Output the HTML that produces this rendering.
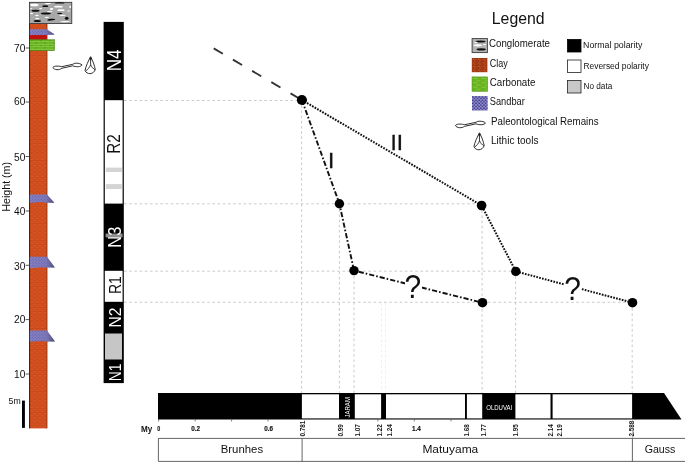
<!DOCTYPE html>
<html lang="en">
<head>
<meta charset="utf-8">
<title>Magnetostratigraphy figure</title>
<style>
html,body{margin:0;padding:0;background:#fff;}
body{width:685px;height:466px;overflow:hidden;font-family:"Liberation Sans",sans-serif;}
svg{display:block;}
text{font-family:"Liberation Sans",sans-serif;fill:#111;}
.nb{font-weight:bold;}
</style>
</head>
<body>
<svg width="685" height="466" viewBox="0 0 685 466">
<defs>
  <pattern id="clay" x="30" y="24" width="5.6" height="4.2" patternUnits="userSpaceOnUse">
    <rect width="5.6" height="4.2" fill="#cb471a"/>
    <rect x="0.4" y="0.4" width="2.2" height="1.3" fill="#da5b28"/>
    <rect x="3.2" y="2.5" width="2.2" height="1.3" fill="#da5b28"/>
    <rect x="3.2" y="0.4" width="2.2" height="1.3" fill="#d24f1d"/>
    <rect x="0.4" y="2.5" width="2.2" height="1.3" fill="#d24f1d"/>
  </pattern>
  <pattern id="clayL" x="472" y="58" width="5.2" height="3.6" patternUnits="userSpaceOnUse">
    <rect width="5.2" height="3.6" fill="#7c2a10"/>
    <rect x="0.5" y="0.5" width="1.9" height="1.2" fill="#e0602a"/>
    <rect x="3" y="0.5" width="1.8" height="1.2" fill="#d24a1c"/>
    <rect x="0" y="2.2" width="1" height="1.1" fill="#d24a1c"/>
    <rect x="1.8" y="2.2" width="1.9" height="1.1" fill="#e0602a"/>
    <rect x="4.3" y="2.2" width="0.9" height="1.1" fill="#d24a1c"/>
  </pattern>
  <pattern id="carb" x="29.4" y="40" width="9" height="4.9" patternUnits="userSpaceOnUse">
    <rect width="9" height="4.9" fill="#62b01e"/>
    <rect x="0" y="1.3" width="9" height="0.8" fill="#9ad650"/>
    <rect x="0" y="3.75" width="9" height="0.8" fill="#9ad650"/>
    <rect x="2" y="0" width="0.6" height="1.3" fill="#3c7d10"/>
    <rect x="6.4" y="2.1" width="0.6" height="1.6" fill="#3c7d10"/>
  </pattern>
  <pattern id="carbL" x="472" y="77" width="9" height="4.4" patternUnits="userSpaceOnUse">
    <rect width="9" height="4.4" fill="#68b41f"/>
    <rect x="0.5" y="1" width="5" height="0.7" fill="#8fd048"/>
    <rect x="4" y="3.2" width="4.5" height="0.7" fill="#8fd048"/>
  </pattern>
  <pattern id="sand" x="30" y="29" width="3" height="3" patternUnits="userSpaceOnUse">
    <rect width="3" height="3" fill="#8580c2"/>
    <circle cx="0.8" cy="0.8" r="0.55" fill="#5a53a0"/>
    <circle cx="2.3" cy="2.3" r="0.55" fill="#5a53a0"/>
  </pattern>
  <pattern id="sandL" x="472" y="96" width="3.2" height="3.2" patternUnits="userSpaceOnUse">
    <rect width="3.2" height="3.2" fill="#908bd0"/>
    <circle cx="0.8" cy="0.9" r="0.75" fill="#2e2a70"/>
    <circle cx="2.4" cy="2.5" r="0.75" fill="#2e2a70"/>
  </pattern>
  <linearGradient id="sg" x1="0" x2="1" y1="0" y2="0">
    <stop offset="0" stop-color="#7b76c0" stop-opacity="0"/>
    <stop offset="0.65" stop-color="#6a679f" stop-opacity="0.2"/>
    <stop offset="1" stop-color="#3f3f55" stop-opacity="0.9"/>
  </linearGradient>
</defs>
<rect width="685" height="466" fill="#fff"/>

<!-- stratigraphic column -->
<g id="strat">
  <rect x="29.3" y="23.6" width="17.9" height="404.8" fill="url(#clay)"/>
  <rect x="29.2" y="23.6" width="0.9" height="404.6" fill="#4a1d08"/>
  <rect x="46.5" y="23.6" width="0.8" height="404.8" fill="#8a3410"/>
  <!-- conglomerate -->
  <rect x="29.4" y="2.3" width="42.4" height="21.2" fill="#a8a8a8" stroke="#2c2c2c" stroke-width="0.8"/>
  <g fill="#fff">
    <ellipse cx="34.4" cy="5" rx="4.2" ry="1.25"/><ellipse cx="47.9" cy="3.6" rx="3.4" ry="0.7"/>
    <ellipse cx="58.5" cy="6.7" rx="4.3" ry="0.9"/><ellipse cx="51.5" cy="8.9" rx="1.8" ry="1"/>
    <ellipse cx="61" cy="10.2" rx="3.6" ry="0.9"/><ellipse cx="70.2" cy="6.9" rx="0.9" ry="1.1"/>
    <ellipse cx="49.7" cy="11.5" rx="2.9" ry="0.6"/><ellipse cx="31.5" cy="13.5" rx="1.5" ry="0.7"/>
    <ellipse cx="37" cy="15.5" rx="1.8" ry="0.65"/><ellipse cx="62.5" cy="15.3" rx="3.3" ry="0.65"/>
    <ellipse cx="46.8" cy="17.3" rx="2.2" ry="0.65"/><ellipse cx="37.3" cy="18.6" rx="2.2" ry="0.7"/>
    <ellipse cx="65" cy="21.6" rx="5" ry="0.65"/><ellipse cx="40.6" cy="8.6" rx="1.5" ry="0.6"/>
    <ellipse cx="31.1" cy="8.6" rx="0.9" ry="0.6"/><ellipse cx="68.7" cy="11" rx="1.5" ry="0.6"/>
  </g>
  <g fill="#0c0c0c">
    <ellipse cx="59.6" cy="2.9" rx="5" ry="0.6"/><ellipse cx="45.3" cy="6.2" rx="3.1" ry="0.9"/>
    <ellipse cx="35.5" cy="10.8" rx="4" ry="0.95"/><ellipse cx="45.9" cy="13.6" rx="5" ry="1"/>
    <ellipse cx="59.7" cy="13.4" rx="2.6" ry="0.65"/><ellipse cx="66.7" cy="18.2" rx="1.8" ry="1.5"/>
    <ellipse cx="51.2" cy="19.7" rx="4" ry="0.9" transform="rotate(-6 51.2 19.7)"/><ellipse cx="37.3" cy="21" rx="3.6" ry="1.1"/>
  </g>
  <!-- top beds -->
  <path d="M29.4 29.3 H46.8 L54.6 34.6 L46.8 35.1 H29.4 Z" fill="url(#sand)"/>
  <path d="M29.4 29.3 H46.8 L54.6 34.6 L46.8 35.1 H29.4 Z" fill="url(#sg)"/>
  <rect x="29.4" y="35.1" width="17.4" height="4.6" fill="#be1010"/>
  <rect x="29.4" y="39.7" width="25.2" height="11" fill="url(#carb)" stroke="#3a7a12" stroke-width="0.5"/>
  <!-- sandbars -->
  <g>
    <path id="sb1" d="M29.4 194.6 H46.9 L54.3 202.8 H46.9 Q42 201.6 38 202.2 T29.4 202.6 Z" fill="url(#sand)"/>
    <path d="M29.4 194.6 H46.9 L54.3 202.8 H46.9 Q42 201.6 38 202.2 T29.4 202.6 Z" fill="url(#sg)"/>
    <path d="M29.4 256.7 H47 L54.8 267.6 H47 Q42 267 38 267.6 T29.4 267.8 Z" fill="url(#sand)"/>
    <path d="M29.4 256.7 H47 L54.8 267.6 H47 Q42 267 38 267.6 T29.4 267.8 Z" fill="url(#sg)"/>
    <path d="M29.4 330.5 H47 L54.9 341.4 H47 Q42 340.6 38 341.2 T29.4 341.6 Z" fill="url(#sand)"/>
    <path d="M29.4 330.5 H47 L54.9 341.4 H47 Q42 340.6 38 341.2 T29.4 341.6 Z" fill="url(#sg)"/>
  </g>
  <rect x="29.2" y="23.6" width="0.8" height="404.6" fill="#3a1a0a" opacity="0.8"/>
  <!-- scale bar -->
  <rect x="22" y="400.6" width="2.9" height="27.3" fill="#000"/>
  <text x="8.6" y="404" font-size="8.7">5m</text>
</g>

<!-- height axis -->
<g id="haxis" font-size="10.2" text-anchor="end">
  <g stroke="#333" stroke-width="0.8">
    <line x1="25.6" y1="48" x2="29.4" y2="48"/><line x1="25.6" y1="102" x2="29.4" y2="102"/>
    <line x1="25.6" y1="156.5" x2="29.4" y2="156.5"/><line x1="25.6" y1="211" x2="29.4" y2="211"/>
    <line x1="25.6" y1="265.3" x2="29.4" y2="265.3"/><line x1="25.6" y1="319.6" x2="29.4" y2="319.6"/>
    <line x1="25.6" y1="374" x2="29.4" y2="374"/>
  </g>
  <text x="25.4" y="52.4">70</text>
  <text x="25.4" y="105.4">60</text>
  <text x="25.4" y="160.6">50</text>
  <text x="25.4" y="215">40</text>
  <text x="25.4" y="269.6">30</text>
  <text x="25.4" y="323.2">20</text>
  <text x="25.4" y="377.6">10</text>
  <text transform="translate(9.8,186.8) rotate(-90)" text-anchor="middle" font-size="10.5" textLength="49.5" lengthAdjust="spacingAndGlyphs">Height (m)</text>
</g>

<!-- fossil + lithic icons near column -->
<g id="icons1" fill="#fff" stroke="#1a1a1a" stroke-width="0.9" stroke-linejoin="round">
  <path d="M52.9 67.4 C53.5 66.4 55.5 66.1 57 66.1 C59.5 66.1 60.5 66.4 61.8 66.7 L72.8 64.3 C73.6 63.5 74.8 63.2 76.5 63.2 C78.7 63.2 81 63.9 82.05 64.9 C81.6 65.8 80 66.5 78.5 66.7 C76 66.9 74 66.3 72.8 65.8 L61.8 68.3 C60.6 69.3 58.5 69.8 57 69.7 C55 69.6 53 68.6 52.9 67.4 Z"/>
  <path d="M90.6 56.7 C88.6 60.5 85.6 66.5 85.05 70.6 C85.6 72.4 88 73.7 90 73.7 C92.4 73.6 94.8 71.6 95.3 69.6 C94.6 65.4 92.6 60.4 90.6 56.7 Z"/>
  <path d="M90.6 57.2 L90.6 64.8 M90.6 64.8 C89.6 67.4 87.8 69.6 85.6 71 M90.6 64.8 C91.8 67 93.2 68.8 95 69.8 M90.2 57.6 L90.2 60 M91 57.6 L91 60" fill="none" stroke-width="0.85"/>
</g>

<!-- polarity column -->
<g id="polcol">
  <rect x="103.6" y="21.9" width="20.2" height="361.2" fill="#000"/>
  <rect x="104.8" y="100.2" width="17.8" height="103.4" fill="#fff"/>
  <rect x="105.8" y="167.6" width="16" height="4.4" fill="#d4d4d4"/>
  <rect x="105.8" y="184.1" width="16" height="4.9" fill="#d4d4d4"/>
  <rect x="104.8" y="270.8" width="17.8" height="31" fill="#fff"/>
  <rect x="105" y="333.5" width="17" height="26" fill="#c6c6c6"/>
  <rect x="105.6" y="233.6" width="17" height="3.8" fill="#8e8e8e"/>
  <g text-anchor="middle" lengthAdjust="spacingAndGlyphs">
    <text transform="translate(121,60.3) rotate(-90)" font-size="19.5" textLength="22" lengthAdjust="spacingAndGlyphs" style="fill:#fff">N4</text>
    <text transform="translate(120.4,144) rotate(-90)" font-size="18" textLength="19.4" lengthAdjust="spacingAndGlyphs">R2</text>
    <text transform="translate(120.8,237.2) rotate(-90)" font-size="18.5" textLength="21" lengthAdjust="spacingAndGlyphs" style="fill:#fff">N3</text>
    <text transform="translate(120.5,285.2) rotate(-90)" font-size="16" textLength="17.8" lengthAdjust="spacingAndGlyphs">R1</text>
    <text transform="translate(120.5,317.5) rotate(-90)" font-size="16" textLength="20" lengthAdjust="spacingAndGlyphs" style="fill:#fff">N2</text>
    <text transform="translate(120.5,372.4) rotate(-90)" font-size="16" textLength="17.6" lengthAdjust="spacingAndGlyphs" style="fill:#fff">N1</text>
  </g>
</g>

<!-- guide lines -->
<g id="guides" stroke="#bdbdbd" stroke-width="0.8" stroke-dasharray="2.6 2.6" fill="none">
  <line x1="124" y1="100.5" x2="301" y2="100.5"/>
  <line x1="124" y1="203.8" x2="482" y2="203.8"/>
  <line x1="124" y1="271.2" x2="516" y2="271.2"/>
  <line x1="124" y1="302.3" x2="632" y2="302.3"/>
  <line x1="301.6" y1="100" x2="301.6" y2="394"/>
  <line x1="339.4" y1="204" x2="339.4" y2="394"/>
  <line x1="354" y1="271" x2="354" y2="394"/>
  <line x1="482.1" y1="205" x2="482.1" y2="394"/>
  <line x1="515.6" y1="271" x2="515.6" y2="394"/>
  <line x1="632.2" y1="303" x2="632.2" y2="394"/>
  <line x1="381.5" y1="303" x2="381.5" y2="394" stroke="#ebebeb"/>
  <line x1="385.5" y1="303" x2="385.5" y2="394" stroke="#ebebeb"/>
</g>

<!-- correlation lines -->
<g id="corr" fill="none" stroke="#111">
  <line x1="213.7" y1="48.4" x2="301.9" y2="100" stroke="#333" stroke-width="1.85" stroke-dasharray="10.6 11.65"/>
  <polyline points="301.9,100 339.4,203.7 354,270.6 482.5,302.7" stroke-width="1.9" stroke-dasharray="5.2 2 1.6 2"/>
  <polyline points="301.9,100 481.6,205.5 515.8,271.4 632.5,302.7" stroke-width="2" stroke-dasharray="1.7 1.25"/>
</g>
<g id="pts" fill="#000">
  <circle cx="301.9" cy="100" r="5.1"/>
  <circle cx="339.4" cy="203.7" r="4.7"/>
  <circle cx="354" cy="270.6" r="4.7"/>
  <circle cx="482.5" cy="302.7" r="4.8"/>
  <circle cx="481.6" cy="205.5" r="4.8"/>
  <circle cx="515.8" cy="271.4" r="4.7"/>
  <circle cx="632.5" cy="302.7" r="4.8"/>
</g>
<g id="marks">
  <text x="327.9" y="168.4" font-size="22.5" stroke="#111" stroke-width="0.3">I</text>
  <text x="390.6" y="149.8" font-size="22.5" stroke="#111" stroke-width="0.3">II</text>
  <rect x="405" y="278" width="17" height="18" fill="#fff"/>
  <rect x="564" y="279" width="17" height="18" fill="#fff"/>
  <text transform="translate(404.6,297.9) scale(0.88,1)" font-size="34">?</text>
  <text transform="translate(564.2,299.9) scale(0.88,1)" font-size="34">?</text>
</g>

<!-- legend -->
<g id="legend" class="h">
  <text x="491.8" y="24" font-size="15.8" textLength="52.8" lengthAdjust="spacingAndGlyphs">Legend</text>
  <rect x="472.1" y="38.6" width="15.3" height="14" fill="#b4b4b4" stroke="#3a3a3a" stroke-width="0.9"/>
  <ellipse cx="480.5" cy="41.4" rx="5" ry="1" fill="#111"/><ellipse cx="477.8" cy="45.3" rx="4.2" ry="1.1" fill="#fff"/>
  <ellipse cx="481.2" cy="49.4" rx="4.6" ry="1.1" fill="#111"/><ellipse cx="484.6" cy="44.6" rx="1.8" ry="0.7" fill="#fff"/>
  <ellipse cx="476" cy="42.4" rx="1.6" ry="0.6" fill="#fff"/>
  <rect x="471.8" y="58" width="15.6" height="14.2" fill="url(#clayL)"/>
  <rect x="472" y="76.9" width="15.7" height="14.5" fill="url(#carbL)" stroke="#4c8c18" stroke-width="0.5"/>
  <rect x="472" y="96" width="15.7" height="14.5" fill="url(#sandL)"/>
  <text x="489" y="47.4" font-size="10.5" textLength="61" lengthAdjust="spacingAndGlyphs">Conglomerate</text>
  <text x="489.8" y="66.6" font-size="10.5" textLength="18" lengthAdjust="spacingAndGlyphs">Clay</text>
  <text x="489.8" y="86.2" font-size="10.5" textLength="45.6" lengthAdjust="spacingAndGlyphs">Carbonate</text>
  <text x="489.8" y="104.7" font-size="10.5" textLength="35" lengthAdjust="spacingAndGlyphs">Sandbar</text>
  <text x="491" y="124.6" font-size="10.5" textLength="107.6" lengthAdjust="spacingAndGlyphs">Paleontological Remains</text>
  <text x="491" y="144" font-size="10.5" textLength="47.4" lengthAdjust="spacingAndGlyphs">Lithic tools</text>
  <g fill="#fff" stroke="#1a1a1a" stroke-width="0.9" stroke-linejoin="round">
    <path transform="translate(402.6,58) translate(52.9,67) scale(1.03,1) translate(-52.9,-67)" d="M52.9 67.4 C53.5 66.4 55.5 66.1 57 66.1 C59.5 66.1 60.5 66.4 61.8 66.7 L72.8 64.3 C73.6 63.5 74.8 63.2 76.5 63.2 C78.7 63.2 81 63.9 82.05 64.9 C81.6 65.8 80 66.5 78.5 66.7 C76 66.9 74 66.3 72.8 65.8 L61.8 68.3 C60.6 69.3 58.5 69.8 57 69.7 C55 69.6 53 68.6 52.9 67.4 Z"/>
    <path transform="translate(388.9,76.1)" d="M90.6 56.7 C88.6 60.5 85.6 66.5 85.05 70.6 C85.6 72.4 88 73.7 90 73.7 C92.4 73.6 94.8 71.6 95.3 69.6 C94.6 65.4 92.6 60.4 90.6 56.7 Z"/>
    <path transform="translate(388.9,76.1)" d="M90.6 57.2 L90.6 64.8 M90.6 64.8 C89.6 67.4 87.8 69.6 85.6 71 M90.6 64.8 C91.8 67 93.2 68.8 95 69.8 M90.2 57.6 L90.2 60 M91 57.6 L91 60" fill="none" stroke-width="0.85"/>
  </g>
  <rect x="567.5" y="39.5" width="13.5" height="12.5" fill="#000" stroke="#000" stroke-width="0.8"/>
  <rect x="567.5" y="60" width="13.5" height="12.5" fill="#fff" stroke="#222" stroke-width="0.8"/>
  <rect x="567.5" y="80.500" width="13.5" height="12.500" fill="#c8c8c8" stroke="#222" stroke-width="0.8"/>
  <text x="583.1" y="47.8" font-size="8.3" textLength="59.2" lengthAdjust="spacingAndGlyphs">Normal polarity</text>
  <text x="583.5" y="68.5" font-size="8.3" textLength="65.4" lengthAdjust="spacingAndGlyphs">Reversed polarity</text>
  <text x="583.5" y="88.8" font-size="8.3" textLength="28.8" lengthAdjust="spacingAndGlyphs">No data</text>
</g>

<!-- time scale -->
<g id="gpts">
  <path d="M158 392.9 H664 L681.5 419.5 H158 Z" fill="#000"/>
  <g fill="#fff">
    <rect x="301.9" y="394.3" width="37.1" height="24.1"/>
    <rect x="354.8" y="394.3" width="26.3" height="24.1"/>
    <rect x="386" y="394.3" width="79" height="24.1"/>
    <rect x="466.9" y="394.3" width="15.3" height="24.1"/>
    <rect x="515.4" y="394.3" width="35.1" height="24.1"/>
    <rect x="552.6" y="394.3" width="79.5" height="24.1"/>
  </g>
  <text transform="translate(349.7,407.3) rotate(-90)" text-anchor="middle" font-size="7" textLength="20.5" lengthAdjust="spacingAndGlyphs" style="fill:#fff">JARAM</text>
  <text x="486.2" y="409.5" font-size="7.2" textLength="26.1" lengthAdjust="spacingAndGlyphs" style="fill:#fff">OLDUVAI</text>
  <g stroke="#444" stroke-width="0.7">
    <line x1="158.6" y1="419.5" x2="158.6" y2="421.4"/><line x1="195.2" y1="419.5" x2="195.2" y2="421.4"/><line x1="231.6" y1="419.5" x2="231.6" y2="421.4"/>
    <line x1="268" y1="419.5" x2="268" y2="421.4"/><line x1="377.8" y1="419.5" x2="377.8" y2="421.4"/><line x1="414.3" y1="419.5" x2="414.3" y2="421.4"/>
    <line x1="451" y1="419.5" x2="451" y2="421.4"/>
  </g>
  <g class="nb">
    <text x="140.9" y="432" font-size="8.9" textLength="11.3" lengthAdjust="spacingAndGlyphs">My</text>
    <g font-size="7" stroke="#111" stroke-width="0.15">
      <text x="157.2" y="431" textLength="3" lengthAdjust="spacingAndGlyphs">0</text>
      <text x="191.3" y="431" textLength="8.8" lengthAdjust="spacingAndGlyphs">0.2</text>
      <text x="264.2" y="431" textLength="8.8" lengthAdjust="spacingAndGlyphs">0.6</text>
      <text x="411.9" y="431" textLength="8.8" lengthAdjust="spacingAndGlyphs">1.4</text>
    </g>
    <g font-size="7.8">
      <text transform="translate(304.9,436.6) rotate(-90)" textLength="16" lengthAdjust="spacingAndGlyphs">0.781</text>
      <text transform="translate(342.6,436.6) rotate(-90)" textLength="12.4" lengthAdjust="spacingAndGlyphs">0.99</text>
      <text transform="translate(360,436.6) rotate(-90)" textLength="12.4" lengthAdjust="spacingAndGlyphs">1.07</text>
      <text transform="translate(382,436.6) rotate(-90)" textLength="12.4" lengthAdjust="spacingAndGlyphs">1.22</text>
      <text transform="translate(391.6,436.6) rotate(-90)" textLength="12.4" lengthAdjust="spacingAndGlyphs">1.24</text>
      <text transform="translate(469,436.6) rotate(-90)" textLength="12.4" lengthAdjust="spacingAndGlyphs">1.68</text>
      <text transform="translate(485.7,436.6) rotate(-90)" textLength="12.4" lengthAdjust="spacingAndGlyphs">1.77</text>
      <text transform="translate(518.4,436.6) rotate(-90)" textLength="12.4" lengthAdjust="spacingAndGlyphs">1.95</text>
      <text transform="translate(553.1,436.6) rotate(-90)" textLength="12.4" lengthAdjust="spacingAndGlyphs">2.14</text>
      <text transform="translate(562.2,436.6) rotate(-90)" textLength="12.4" lengthAdjust="spacingAndGlyphs">2.19</text>
      <text transform="translate(634.2,436.6) rotate(-90)" textLength="15.8" lengthAdjust="spacingAndGlyphs">2.588</text>
    </g>
  </g>
  <g stroke="#4a4a4a" stroke-width="0.85" fill="none">
    <path d="M686 438.4 H158.4 V461.4 H686"/>
    <line x1="302.1" y1="438.4" x2="302.1" y2="461.4"/>
    <line x1="632.4" y1="438.4" x2="632.4" y2="461.4"/>
    <line x1="632.4" y1="419.5" x2="632.4" y2="438.4" stroke="#8a8a8a" stroke-width="0.6"/>
  </g>
  <g font-size="11.7" lengthAdjust="spacingAndGlyphs">
    <text x="220.7" y="452.9" textLength="42.4" lengthAdjust="spacingAndGlyphs">Brunhes</text>
    <text x="422.4" y="453" textLength="55.9" lengthAdjust="spacingAndGlyphs">Matuyama</text>
    <text x="644.7" y="453.2" textLength="30.7" lengthAdjust="spacingAndGlyphs">Gauss</text>
  </g>
</g>
</svg>
</body>
</html>
